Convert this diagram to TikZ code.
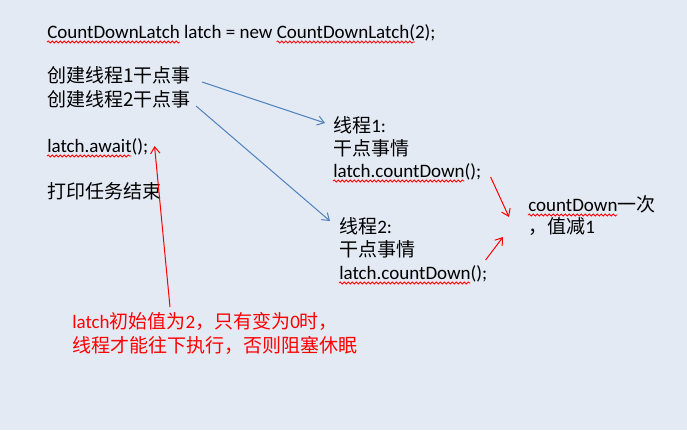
\documentclass[tikz,border=0pt]{standalone}
\usepackage{fontspec}
\setmainfont{Carlito}
\newfontfamily\cjk{Noto Sans CJK SC}
\usetikzlibrary{arrows.meta,decorations.pathmorphing}

\definecolor{slidebg}{RGB}{227,234,244}
\definecolor{linkblue}{RGB}{79,129,189}

\newcommand\slidefont{\fontsize{14.25}{17}\selectfont}

% widths for the red spell-check marks
\newlength\wClass
\newlength\wPre
\newlength\wClassP
\newlength\wAwait
\newlength\wCount
\newlength\wCD

\begin{document}
\settowidth\wClass{\slidefont CountDownLatch}%
\settowidth\wPre{\slidefont CountDownLatch latch = new }%
\settowidth\wClassP{\slidefont CountDownLatch(}%
\settowidth\wAwait{\slidefont latch.await}%
\settowidth\wCount{\slidefont latch.countDown}%
\settowidth\wCD{\slidefont countDown}%
\begin{tikzpicture}[x=0.75pt, y=-0.75pt,
    txt/.style={anchor=base west, inner sep=0pt, font=\slidefont},
    note/.style={txt, text=red},
    wavy/.style={draw=red, line width=0.6pt, decorate, decoration={snake, segment length=3pt, amplitude=0.8pt}},
    link/.style={draw=linkblue, line width=0.75pt, -{Straight Barb[length=5pt, width=7pt]}},
    hint/.style={draw=red, line width=0.75pt, -{Straight Barb[length=5pt, width=7pt]}}]
					% Background
					\fill[slidebg] (0,0) rectangle (687,430);
					\useasboundingbox (0,0) rectangle (687,430);
					
					% Main thread
					\node[txt] (decl) at (47,38) {CountDownLatch latch = new CountDownLatch(2);};
					\node[txt] (mk1) at (47,82) {{\cjk 创建线程1干点事}};
					\node[txt] (mk2) at (47,106) {{\cjk 创建线程2干点事}};
					\node[txt] (aw) at (47,152) {latch.await();};
					\node[txt] (done) at (47,198) {{\cjk 打印任务结束}};
					
					% Worker threads
					\node[txt] (t1a) at (333,132) {{\cjk 线程}1:};
					\node[txt] (t1b) at (333,155) {{\cjk 干点事情}};
					\node[txt] (t1c) at (333,177) {latch.countDown();};
					\node[txt] (t2a) at (339,233) {{\cjk 线程}2:};
					\node[txt] (t2b) at (339,256) {{\cjk 干点事情}};
					\node[txt] (t2c) at (339,279) {latch.countDown();};
					
					% Counter
					\node[txt] (cd1) at (528,211) {countDown{\cjk 一次}};
					\node[txt] (cd2) at (528,233) {{\cjk ，值减}1};
					\coordinate (hitA) at (509,217);
					\coordinate (hitB) at (503,237);
					
					% Remark
					\node[note] (n1) at (72,328) {latch{\cjk 初始值为}2{\cjk ，只有变为}0{\cjk 时，}};
					\node[note] (n2) at (72,352) {{\cjk 线程才能往下执行，否则阻塞休眠}};
					
					% Spell-check marks
					\draw[wavy] ([yshift=-3pt]decl.base west) -- ++(\wClass,0pt);
					\draw[wavy] ([shift={(\wPre,-3pt)}]decl.base west) -- ++(\wClassP,0pt);
					\draw[wavy] ([yshift=-3pt]aw.base west) -- ++(\wAwait,0pt);
					\draw[wavy] ([yshift=-3pt]t1c.base west) -- ++(\wCount,0pt);
					\draw[wavy] ([yshift=-3pt]t2c.base west) -- ++(\wCount,0pt);
					\draw[wavy] ([yshift=-3pt]cd1.base west) -- ++(\wCD,0pt);
					
					% Arrows
					\draw[link] ([shift={(11,0)}]mk1.base east) -- ([shift={(-8,-9)}]t1a.base west);
					\draw[link] ([shift={(5,0)}]mk2.base east) -- ([shift={(-9,-12)}]t2a.base west);
					\draw[hint] ([shift={(9,0)}]t1c.base east) -- (hitA);
					\draw[hint] ([shift={(-2,-19)}]t2c.base east) -- (hitB);
					\draw[hint] ([shift={(98,-21)}]n1.base west) -- ([shift={(6,-6)}]aw.base east);
				\end{tikzpicture}
\end{document}
